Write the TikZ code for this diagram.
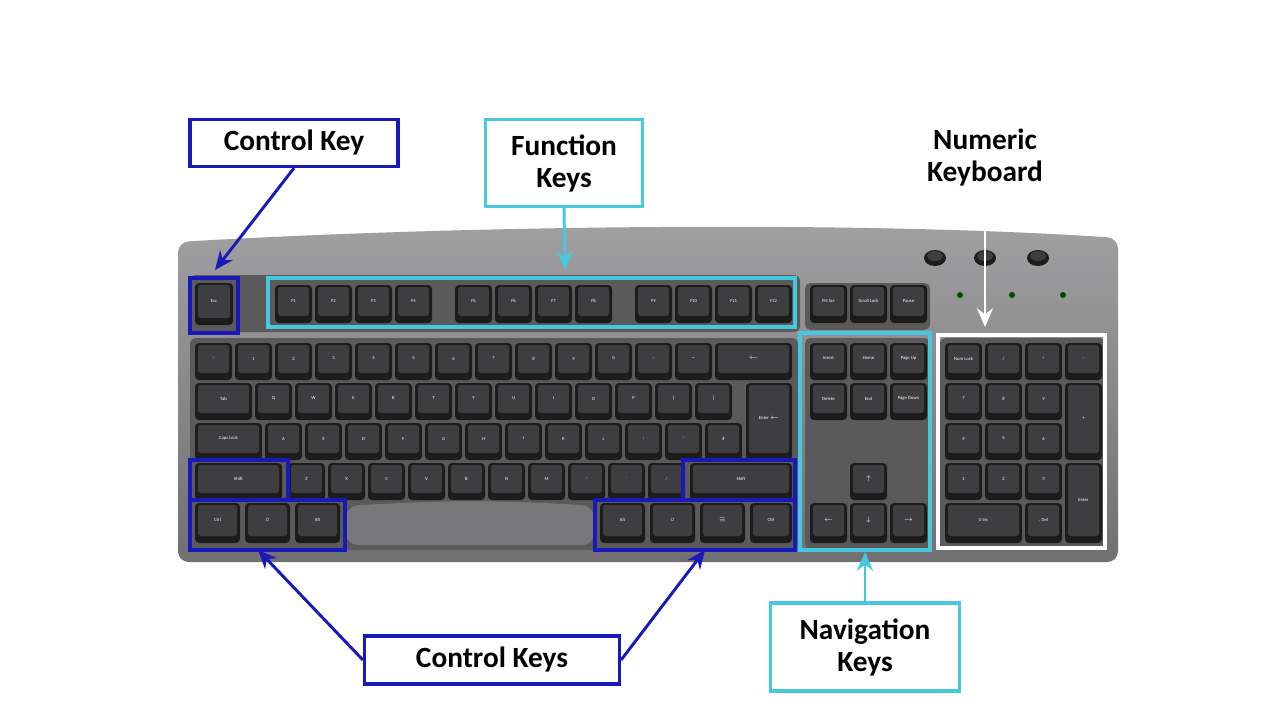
\documentclass[tikz,border=0pt]{standalone}
\usepackage{fontspec}
\setmainfont{Carlito}
\usetikzlibrary{arrows.meta}
\definecolor{dblue}{RGB}{25,25,185}
\definecolor{cyanb}{RGB}{70,200,225}
\definecolor{bodyg}{RGB}{150,150,152}
\definecolor{keyside}{RGB}{28,28,28}
\definecolor{keytop}{RGB}{62,62,64}
\tikzset{
 lbl/.style={draw=#1,line width=2.6pt,font=\bfseries\fontsize{22}{26}\selectfont,inner sep=3pt,align=center,text=black},
 hbox/.style={draw=#1,line width=2.6pt},
 arr/.style={draw=#1,line width=2.2pt,-{Stealth[length=14pt,width=12pt]}},
 klbl/.style={font=\fontsize{3.5}{4}\selectfont,text=white,inner sep=0pt}
}
\newcommand\kk[5]{%
 \fill[keyside,rounded corners=3] (#1,#2) rectangle ++(#3,#4);
 \fill[keytop,rounded corners=2] (#1+3,#2+2) rectangle ++(#3-6,#4-9);
 \node[klbl] at (#1+#3/2,#2+#4/2-3) {#5};}
\begin{document}
\begin{tikzpicture}[x=0.75pt,y=-0.75pt]
\useasboundingbox (0,0) rectangle (1280,720);
\fill[white] (0,0) rectangle (1280,720);
% body
\shade[top color=bodyg!90!white,bottom color=bodyg!75!black,rounded corners=8]
 (178,242) .. controls (450,226) and (850,220) .. (1118,238) -- (1118,562) -- (178,562) -- cycle;
\fill[bodyg!60!black,rounded corners=4] (190,275) rectangle (800,332);
\fill[bodyg!60!black,rounded corners=4] (805,283) rectangle (930,330);
\fill[bodyg!60!black,rounded corners=4] (190,338) rectangle (798,550);
\fill[bodyg!60!black,rounded corners=4] (805,338) rectangle (930,550);
\fill[bodyg!60!black,rounded corners=4] (940,338) rectangle (1105,550);
% buttons & LEDs
\foreach \x in {935,985,1038} {\fill[keyside] (\x,258) ellipse (11 and 8); \fill[keytop] (\x,256) ellipse (8 and 5);}
\foreach \x in {960,1012,1063} {\fill[green!30!black] (\x,295) circle (3);}
% function row
\kk{195}{283}{38}{42}{Esc}
\foreach \l [count=\i from 0] in {F1,F2,F3,F4} {\kk{275+40*\i}{285}{37}{38}{\l}}
\foreach \l [count=\i from 0] in {F5,F6,F7,F8} {\kk{455+40*\i}{285}{37}{38}{\l}}
\foreach \l [count=\i from 0] in {F9,F10,F11,F12} {\kk{635+40*\i}{285}{37}{38}{\l}}
\foreach \l [count=\i from 0] in {Prt Scr,Scroll Lock,Pause} {\kk{810+40*\i}{285}{37}{38}{\l}}
% row 1
\foreach \l [count=\i from 0] in {`,1,2,3,4,5,6,7,8,9,0,-,=} {\kk{195+40*\i}{343}{37}{37}{\l}}
\kk{715}{343}{77}{37}{$\leftarrow$}
% row 2
\kk{195}{383}{57}{37}{Tab}
\foreach \l [count=\i from 0] in {Q,W,E,R,T,Y,U,I,O,P,[,]} {\kk{255+40*\i}{383}{37}{37}{\l}}
\kk{746}{383}{46}{77}{Enter $\leftarrow$}
% row 3
\kk{195}{423}{67}{37}{Caps Lock}
\foreach \l [count=\i from 0] in {A,S,D,F,G,H,J,K,L,;,',\#} {\kk{265+40*\i}{423}{37}{37}{\l}}
% row 4
\kk{195}{463}{87}{37}{Shift}
\foreach \l [count=\i from 0] in {Z,X,C,V,B,N,M,{,},.,/} {\kk{288+40*\i}{463}{37}{37}{\l}}
\kk{690}{463}{102}{37}{Shift}
% row 5
\kk{195}{503}{45}{40}{Ctrl}
\kk{245}{503}{45}{40}{$\circ$}
\kk{295}{503}{45}{40}{Alt}
\fill[bodyg!80!black,rounded corners=10] (345,506) .. controls (450,500) and (500,500) .. (595,506) -- (595,545) -- (345,545) -- cycle;
\kk{600}{503}{45}{40}{Alt}
\kk{650}{503}{45}{40}{$\circ$}
\kk{700}{503}{45}{40}{$\equiv$}
\kk{750}{503}{42}{40}{Ctrl}
% nav
\foreach \l [count=\i from 0] in {Insert,Home,Page Up} {\kk{810+40*\i}{343}{37}{37}{\l}}
\foreach \l [count=\i from 0] in {Delete,End,Page Down} {\kk{810+40*\i}{383}{37}{37}{\l}}
\kk{850}{463}{37}{37}{$\uparrow$}
\foreach \l [count=\i from 0] in {$\leftarrow$,$\downarrow$,$\rightarrow$} {\kk{810+40*\i}{503}{37}{40}{\l}}
% numpad
\foreach \l [count=\i from 0] in {Num Lock,/,*,-} {\kk{945+40*\i}{343}{37}{37}{\l}}
\foreach \l [count=\i from 0] in {7,8,9} {\kk{945+40*\i}{383}{37}{37}{\l}}
\foreach \l [count=\i from 0] in {4,5,6} {\kk{945+40*\i}{423}{37}{37}{\l}}
\foreach \l [count=\i from 0] in {1,2,3} {\kk{945+40*\i}{463}{37}{37}{\l}}
\kk{1065}{383}{37}{77}{+}
\kk{1065}{463}{37}{80}{Enter}
\kk{945}{503}{77}{40}{0 Ins}
\kk{1025}{503}{37}{40}{. Del}
% highlight boxes
\draw[hbox=dblue] (190,278) rectangle (238,333);
\draw[hbox=cyanb] (268,278) rectangle (795,327);
\draw[hbox=dblue] (190,460) rectangle (288,500);
\draw[hbox=dblue] (190,500) rectangle (345,550);
\draw[hbox=dblue] (683,460) rectangle (795,500);
\draw[hbox=dblue] (595,500) rectangle (795,550);
\draw[hbox=cyanb] (800,333) rectangle (930,550);
\draw[hbox=white] (938,335) rectangle (1105,548);
% labels
\node[lbl=dblue,minimum width=156pt,minimum height=35pt] (ck) at (294,143) {Control Key};
\node[lbl=cyanb,minimum width=118pt,minimum height=65pt] (fk) at (564,163) {Function\\[-2pt]Keys};
\node[font=\bfseries\fontsize{22}{26}\selectfont,align=center] (nk) at (985,158) {Numeric\\[-2pt]Keyboard};
\node[lbl=cyanb,minimum width=142pt,minimum height=66pt] (nv) at (865,647) {Navigation\\[-2pt]Keys};
\node[lbl=dblue,minimum width=191pt,minimum height=36pt] (cks) at (492,660) {Control Keys};
\coordinate (esc) at (215,270);
\coordinate (fn) at (565,270);
\coordinate (np) at (985,327);
\coordinate (nav) at (865,552);
\coordinate (lc) at (258,550);
\coordinate (rc) at (705,550);
\draw[arr=dblue] (ck.south) -- (esc);
\draw[arr=cyanb] (fk.south) -- (fn);
\draw[arr=white] (nk.south) -- (np);
\draw[arr=cyanb] (nv.north) -- (nav);
\draw[arr=dblue] (cks.west) -- (lc);
\draw[arr=dblue] (cks.east) -- (rc);
\end{tikzpicture}
\end{document}
